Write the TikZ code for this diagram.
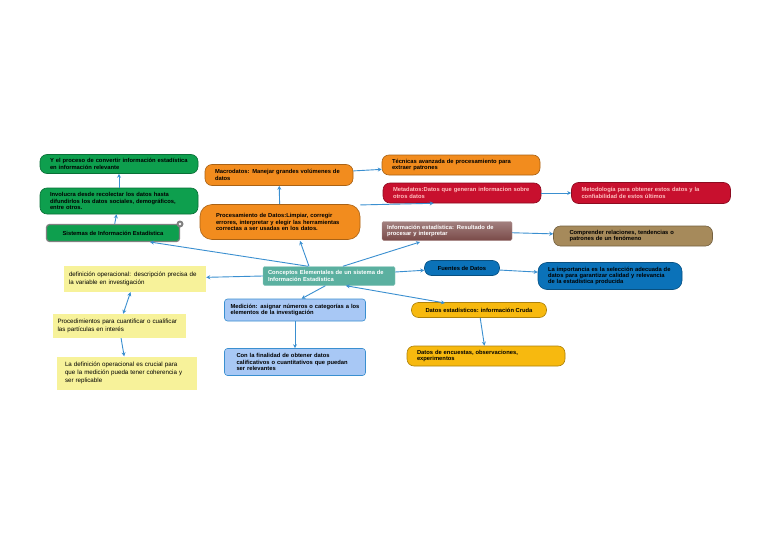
\documentclass[tikz,border=0pt]{standalone}
\usepackage{fontspec}
\setmainfont{Liberation Sans}
\usetikzlibrary{arrows.meta}
\hyphenpenalty=10000
\exhyphenpenalty=10000
\definecolor{grn}{HTML}{0E9F4E}
\definecolor{org}{HTML}{F28C1E}
\definecolor{rd}{HTML}{C8102E}
\definecolor{brn}{HTML}{7A4A48}
\definecolor{tan}{HTML}{A68A5B}
\definecolor{teal}{HTML}{5BB0A0}
\definecolor{blu}{HTML}{0B72B9}
\definecolor{ylo}{HTML}{F7B90F}
\definecolor{lb}{HTML}{A8C8F5}
\definecolor{ly}{HTML}{F7F29A}
\definecolor{ln}{HTML}{3A8FD0}
\tikzset{
 bx/.style={minimum height=#1, inner ysep=2pt, inner xsep=10pt, align=left, font=\fontsize{5.8}{6.4}\selectfont\bfseries, anchor=center},
 pill/.style={rounded corners=7pt, draw=#1!70!black, line width=0.6pt},
 ar/.style={draw=ln, line width=0.9pt, -{Stealth[length=4pt,width=4pt]}},
 ar2/.style={draw=ln, line width=0.9pt, {Stealth[length=4pt,width=4pt]}-{Stealth[length=4pt,width=4pt]}},
 yl/.style={fill=ly,inner xsep=5pt,font=\fontsize{6.2}{8}\selectfont},
}
\begin{document}
\begin{tikzpicture}[x=1pt,y=-1pt]
\useasboundingbox[fill=white] (0,0) rectangle (768,543);
\node[bx=19pt,pill=grn,fill=grn,text width=138pt] (y) at (119,164) {Y el proceso de convertir información estadística en información relevante};
\node[bx=26pt,pill=grn,fill=grn,text width=138pt] (inv) at (119,201) {Involucra desde recolectar los datos hasta difundirlos los datos sociales, demográficos, entre otros.};
\node[bx=17pt,rounded corners=3pt,draw=gray,line width=1.2pt,fill=grn,minimum width=133pt,align=center] (sis) at (113,233) {Sistemas de Información Estadística};
\fill[gray] (180,224) circle (3.5pt); \fill[white] (180,224) circle (1.3pt);
\node[bx=21pt,pill=org,fill=org,text width=128pt] (mac) at (279,175) {Macrodatos: Manejar grandes volúmenes de datos};
\node[bx=35pt,pill=org,fill=org,text width=128pt,inner xsep=16pt,rounded corners=12pt] (pro) at (280,222) {Procesamiento de Datos:Limpiar, corregir errores, interpretar y elegir las herramientas correctas a ser usadas en los datos.};
\node[bx=20pt,pill=org,fill=org,text width=138pt] (tec) at (461,165) {Técnicas avanzada de procesamiento para extraer patrones};
\node[bx=20pt,pill=rd,fill=rd,text width=138pt,text=pink] (met) at (462,193) {Metadatos:Datos que generan informacion sobre otros datos};
\node[bx=21pt,pill=rd,fill=rd,text width=139pt,text=pink] (mtd) at (651,193) {Metodología para obtener estos datos y la confiabilidad de estos últimos};
\node[bx=19pt,rounded corners=1.5pt,top color=brn!70,bottom color=brn,draw=brn!60,text width=120pt,text=white,inner xsep=5pt] (inf) at (447,231) {Información estadística: Resultado de procesar y interpretar};
\node[bx=20pt,pill=tan,fill=tan,text width=139pt] (com) at (633,236) {\hspace*{6pt}Comprender relaciones, tendencias o\\\hspace*{6pt}patrones de un fenómeno};
\node[bx=19pt,rounded corners=1.5pt,fill=teal,draw=teal!70!white,text width=122pt,text=white,inner xsep=5pt] (con) at (329,276) {Conceptos Elementales de un sistema de Información Estadística};
\node[bx=15pt,pill=blu,fill=blu,minimum width=75pt,align=center] (fue) at (462,268) {Fuentes de Datos};
\node[bx=27pt,pill=blu,fill=blu,text width=124pt,rounded corners=9pt] (imp) at (610,276) {La importancia es la selección adecuada de datos para garantizar calidad y relevancia de la estadística producida};
\node[bx=15pt,pill=ylo,fill=ylo,minimum width=135pt,align=center] (dat) at (479,310) {Datos estadísticos: información Cruda};
\node[bx=20pt,pill=ylo,fill=ylo,text width=138pt] (enc) at (486,356) {Datos de encuestas, observaciones, experimentos};
\node[bx=22pt,rounded corners=3pt,fill=lb,draw=ln,line width=0.6pt,text width=129pt,inner xsep=6pt] (med) at (295,310) {Medición: asignar números o categorías a los elementos de la investigación};
\node[bx=27pt,rounded corners=3pt,fill=lb,draw=ln,line width=0.6pt,text width=117pt,inner xsep=12pt] (fin) at (295,362) {Con la finalidad de obtener datos calificativos o cuantitativos que puedan ser relevantes};
\node[bx=26pt,yl,text width=132pt] (def) at (135,279) {definición operacional: descripción precisa de la variable en investigación};
\node[bx=24pt,yl,text width=123pt] (pcd) at (119,326) {Procedimientos para cuantificar o cualificar las partículas en interés};
\node[bx=33pt,yl,text width=124pt,inner xsep=8pt] (ldo) at (127,373) {La definición operacional es crucial para que la medición pueda  tener coherencia y ser replicable};
\draw[ar] (sis) -- (inv); \draw[ar] (inv) -- (y);
\draw[ar] (con.155) -- (150,242);
\draw[ar] (con.north) ++(-20,0) -- (300,241);
\draw[ar] (pro) -- (mac);
\draw[ar] (mac) -- (tec);
\draw[ar] (pro.12) -- (met.200);
\draw[ar] (met) -- (mtd);
\draw[ar] (con.35) -- (420,242);
\draw[ar] (inf) -- (com);
\draw[ar] (con.east) ++(0,-4) -- (fue);
\draw[ar] (fue) -- (imp);
\draw[ar2] (con.330) -- (445,303);
\draw[ar] (dat) -- (enc);
\draw[ar] (con.250) -- (med.60);
\draw[ar] (med) -- (fin);
\draw[ar] (con.west) -- (def);
\draw[ar2] (def) -- (pcd);
\draw[ar] (pcd) -- (ldo);
\end{tikzpicture}
\end{document}
